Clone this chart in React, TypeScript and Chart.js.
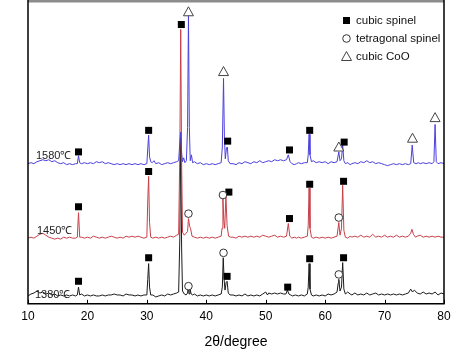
import React, { useEffect, useRef } from "react";
import { Chart, registerables } from "chart.js";

Chart.register(...registerables);

// 2θ (degree), relative intensity above each trace's own baseline
const trace1380: [number, number][] = [
  [10,1],[10.5,3],[11,4],[11.5,6],[12,4],[12.5,5],[13,3],[13.5,4],[14,2],[14.5,3],[15,1],[15.5,2],[16,1],[16.5,2],[17,1],[17.5,2],[18,1],[18.3,2],[18.5,10],[18.7,2],[19,3],[19.5,1],[20,2],[20.5,1],[21,2],[21.5,1],[22,1],[22.5,2],[23,1],[23.5,2],[24,2],[24.5,3],[25,2],[25.5,2],[26,1],[26.5,3],[27,2],[27.5,2],[28,1],[28.5,2],[29,1],[29.5,2],[30,2],[30.15,18],[30.3,34],[30.45,10],[30.65,2],[31,2],[31.5,0],[32,1],[32.5,2],[33,1],[33.5,3],[34,2],[34.5,3],[35,4],[35.35,5],[35.55,60],[35.7,163],[35.85,50],[36.0,6],[36.3,3],[36.6,2],[36.85,4],[36.95,10],[37.1,3],[37.25,9],[37.45,3],[37.7,2],[38,3],[38.5,1],[39,2],[39.5,1],[40,2],[40.5,1],[41,2],[41.5,1],[42,2],[42.5,3],[42.7,10],[42.85,40],[43.0,18],[43.15,7],[43.35,15],[43.5,16],[43.7,4],[44,2],[44.5,2],[45,1],[45.5,2],[46,1],[46.5,3],[47,1],[47.5,2],[48,1],[48.5,2],[49,1],[49.5,3],[50,5],[50.3,2],[50.5,4],[51,3],[51.5,4],[52,3],[52.5,4],[53,3],[53.4,3],[53.65,7],[53.9,3],[54.2,2],[54.5,1],[55,2],[55.5,1],[56,2],[56.5,1],[57,3],[57.15,10],[57.3,34],[57.45,8],[57.7,2],[58,1],[58.5,2],[59,1],[59.5,2],[60,1],[60.5,3],[61,2],[61.5,3],[62,5],[62.2,14],[62.3,18],[62.5,6],[62.75,10],[62.95,35],[63.15,8],[63.4,3],[63.8,5],[64.2,3],[64.5,2],[65,4],[65.5,2],[66,3],[66.5,2],[67,4],[67.5,2],[68,3],[68.5,4],[69,2],[69.5,3],[70,2],[70.5,3],[71,2],[71.5,3],[72,2],[72.5,3],[73,2],[73.5,3],[74,4],[74.4,8],[74.7,5],[75,7],[75.5,4],[76,3],[76.5,5],[77,3],[77.5,4],[78,3],[78.5,5],[79,2],[79.5,4],[80,3]
];

const trace1450: [number, number][] = [
  [10,2],[10.5,3],[11,2],[11.5,4],[12,6],[12.5,7],[13,5],[13.5,3],[14,2],[14.5,1],[15,2],[15.5,1],[16,3],[16.5,2],[17,3],[17.5,2],[18,2],[18.3,3],[18.5,28],[18.7,3],[19,3],[19.5,2],[20,3],[20.5,2],[21,4],[21.5,3],[22,2],[22.5,3],[23,2],[23.5,3],[24,4],[24.5,3],[25,2],[25.5,3],[26,2],[26.5,4],[27,3],[27.5,4],[28,3],[28.5,4],[29,3],[29.5,2],[30,3],[30.15,40],[30.3,65],[30.45,18],[30.65,3],[31,2],[31.5,3],[32,2],[32.5,3],[33,2],[33.5,3],[34,4],[34.5,3],[35,5],[35.35,6],[35.55,90],[35.7,215],[35.85,80],[36.0,8],[36.3,5],[36.6,7],[36.85,9],[37.0,22],[37.2,14],[37.35,12],[37.6,4],[38,3],[38.5,2],[39,3],[39.5,2],[40,3],[40.5,2],[41,3],[41.5,2],[42,3],[42.5,4],[42.65,12],[42.8,42],[42.95,20],[43.1,12],[43.3,45],[43.5,15],[43.75,4],[44.1,3],[44.5,3],[45,2],[45.5,4],[46,3],[46.5,4],[47,3],[47.5,4],[48,3],[48.5,4],[49,3],[49.5,5],[50,4],[50.5,3],[51,4],[51.5,5],[52,3],[52.5,4],[53,3],[53.5,4],[53.8,17],[54.05,4],[54.4,2],[54.8,3],[55.2,2],[55.5,3],[56,2],[56.5,3],[57,4],[57.15,15],[57.3,53],[57.45,12],[57.7,3],[58,2],[58.5,3],[59,2],[59.5,3],[60,2],[60.5,3],[61,2],[61.5,3],[62,4],[62.3,18],[62.5,5],[62.75,12],[62.95,56],[63.15,10],[63.4,3],[63.8,2],[64.2,4],[64.5,3],[65,4],[65.5,3],[66,5],[66.5,3],[67,4],[67.5,3],[68,6],[68.5,3],[69,4],[69.5,3],[70,5],[70.5,3],[71,4],[71.5,3],[72,5],[72.5,3],[73,4],[73.5,3],[74,4],[74.4,7],[74.6,11],[74.85,6],[75.2,3],[75.5,4],[76,5],[76.5,3],[77,4],[77.5,3],[78,4],[78.5,3],[79,4],[79.5,3],[80,3]
];

const trace1580: [number, number][] = [
  [10,3],[10.5,4],[11,3],[11.5,5],[12,6],[12.5,7],[13,6],[13.5,7],[14,5],[14.5,6],[15,4],[15.5,3],[16,4],[16.5,2],[17,3],[17.5,2],[18,3],[18.3,3],[18.5,11],[18.7,4],[19,3],[19.5,4],[20,3],[20.5,4],[21,3],[21.5,5],[22,4],[22.5,5],[23,3],[23.5,4],[24,3],[24.5,2],[25,3],[25.5,2],[26,3],[26.5,2],[27,3],[27.5,2],[28,3],[28.5,2],[29,3],[29.5,2],[30,3],[30.15,18],[30.3,32],[30.45,10],[30.65,5],[30.9,4],[31.2,6],[31.5,3],[32,4],[32.5,2],[33,3],[33.5,4],[34,3],[34.5,4],[35,5],[35.35,6],[35.55,25],[35.7,35],[35.85,14],[36.0,5],[36.2,9],[36.4,4],[36.65,6],[36.85,40],[37.0,155],[37.15,40],[37.3,6],[37.5,12],[37.7,4],[38,5],[38.5,3],[39,4],[39.5,2],[40,3],[40.5,2],[41,3],[41.5,2],[42,3],[42.5,4],[42.7,20],[42.9,90],[43.05,30],[43.2,8],[43.4,19],[43.55,20],[43.7,6],[44,3],[44.5,3],[45,2],[45.5,4],[46,3],[46.5,5],[47,4],[47.5,3],[48,5],[48.5,4],[49,6],[49.5,4],[50,5],[50.5,6],[51,5],[51.5,7],[52,6],[52.5,7],[53,6],[53.5,7],[53.8,12],[54.1,5],[54.4,3],[54.8,2],[55.2,3],[55.5,4],[56,3],[56.5,4],[57,4],[57.15,12],[57.3,33],[57.45,12],[57.7,5],[58,6],[58.5,4],[59,5],[59.5,4],[60,5],[60.5,3],[61,5],[61.5,4],[62,5],[62.3,15],[62.5,6],[62.75,8],[62.95,22],[63.15,6],[63.4,3],[63.8,4],[64.2,2],[64.5,3],[65,4],[65.5,3],[66,5],[66.5,4],[67,6],[67.5,4],[68,5],[68.5,3],[69,4],[69.5,3],[70,2],[70.5,1],[71,2],[71.5,3],[72,2],[72.5,3],[73,2],[73.5,3],[74,2],[74.4,3],[74.65,22],[74.9,4],[75.3,3],[75.7,4],[76,3],[76.5,4],[77,3],[77.5,4],[78,3],[78.3,5],[78.5,43],[78.7,5],[79,3],[79.5,4],[80,3]
];

// vertical offsets of the stacked traces
const offsets = [7, 65, 140];
const traceLabels = ["1380℃", "1450℃", "1580℃"];
const traceColors = ["#1c1c1c", "#c8404a", "#4b40dc"];

// phase markers: [2θ, plotted height]
const spinelMarks: [number, number][] = [
  [18.5,23],[30.3,47],[43.5,28],[53.7,17],[57.4,46],[63.1,47],
  [18.5,99],[30.3,135],[35.8,285],[43.8,114],[54.0,87],[57.4,122],[63.1,125],
  [18.5,155],[30.3,177],[43.6,166],[54.0,157],[57.4,177],[63.2,165]
];
const tetragonalMarks: [number, number][] = [
  [37.0,18],[42.9,52],[62.3,30],[37.0,92],[42.8,111],[62.3,88]
];
const cooMarks: [number, number][] = [
  [37.0,298],[42.9,237],[62.3,160],[74.7,169],[78.5,190]
];
const legendNames = ["cubic spinel", "tetragonal spinel", "cubic CoO"];
const xTicks = [10, 20, 30, 40, 50, 60, 70, 80];

const FONT = "Arial, 'Liberation Sans', Helvetica, sans-serif";

function drawMark(ctx: CanvasRenderingContext2D, kind: number, x: number, y: number) {
  ctx.save();
  ctx.lineWidth = 1;
  if (kind === 0) {
    ctx.fillStyle = "#000";
    ctx.fillRect(x - 3.5, y - 3.5, 7, 7);
  } else if (kind === 1) {
    ctx.fillStyle = "#fff";
    ctx.strokeStyle = "#333";
    ctx.beginPath();
    ctx.arc(x, y, 3.8, 0, Math.PI * 2);
    ctx.fill();
    ctx.stroke();
  } else {
    ctx.fillStyle = "#fff";
    ctx.strokeStyle = "#444";
    ctx.beginPath();
    ctx.moveTo(x, y - 5);
    ctx.lineTo(x + 5, y + 4);
    ctx.lineTo(x - 5, y + 4);
    ctx.closePath();
    ctx.fill();
    ctx.stroke();
  }
  ctx.restore();
}

const overlayPlugin = {
  id: "overlay",
  afterDatasetsDraw(chart: any) {
    const ctx: CanvasRenderingContext2D = chart.ctx;
    const xs = chart.scales.x;
    const ys = chart.scales.y;
    const groups = [spinelMarks, tetragonalMarks, cooMarks];
    groups.forEach((g, k) => {
      g.forEach(([dx, dy]) => drawMark(ctx, k, xs.getPixelForValue(dx), ys.getPixelForValue(dy)));
    });
  },
  afterDraw(chart: any) {
    const ctx: CanvasRenderingContext2D = chart.ctx;
    const { left, right, bottom } = chart.chartArea;
    const xs = chart.scales.x;
    ctx.save();
    // frame
    ctx.fillStyle = "#8c8c8c";
    ctx.fillRect(left, 0, right - left, 2.5);
    ctx.strokeStyle = "#000";
    ctx.lineWidth = 1.5;
    ctx.beginPath();
    ctx.moveTo(left, 0);
    ctx.lineTo(left, bottom);
    ctx.lineTo(right, bottom);
    ctx.lineTo(right, 0);
    ctx.stroke();
    // inward ticks
    ctx.lineWidth = 1;
    xTicks.forEach((t) => {
      const px = Math.round(xs.getPixelForValue(t)) + 0.5;
      ctx.beginPath();
      ctx.moveTo(px, bottom);
      ctx.lineTo(px, bottom - 4);
      ctx.stroke();
    });
    // trace labels
    ctx.fillStyle = "#222";
    ctx.font = `11px ${FONT}`;
    ctx.textBaseline = "middle";
    ctx.textAlign = "left";
    const labelPos: [number, number][] = [[35, 295], [37, 231], [36, 156]];
    traceLabels.forEach((t, i) => ctx.fillText(t, labelPos[i][0], labelPos[i][1]));
    // legend
    ctx.font = `11.5px ${FONT}`;
    const ly = [20.5, 38.5, 56.5];
    legendNames.forEach((n, i) => {
      drawMark(ctx, i, 346.5, ly[i]);
      ctx.fillStyle = "#111";
      ctx.fillText(n, 356, ly[i] + 0.5);
    });
    ctx.restore();
  },
};

export default function App() {
  const ref = useRef<HTMLCanvasElement | null>(null);
  useEffect(() => {
    if (!ref.current) return;
    const traces = [trace1380, trace1450, trace1580];
    const orders = [3, 2, 1];
    const chart = new Chart(ref.current, {
      type: "line",
      data: {
        datasets: traces.map((tr, i) => ({
          label: traceLabels[i],
          data: tr.map(([x, y]) => ({ x, y: y + offsets[i] })),
          borderColor: traceColors[i],
          borderWidth: 1,
          pointRadius: 0,
          tension: 0,
          fill: false,
          order: orders[i],
        })),
      },
      options: {
        animation: false,
        responsive: false,
        devicePixelRatio: 1,
        layout: { padding: { left: 28, right: 30, top: 1, bottom: 0 } },
        plugins: { legend: { display: false }, tooltip: { enabled: false } },
        scales: {
          x: {
            type: "linear",
            min: 10,
            max: 80,
            grid: { display: false, drawTicks: false },
            border: { display: false },
            ticks: {
              stepSize: 10,
              padding: 6,
              color: "#000",
              font: { family: FONT, size: 12 },
              maxRotation: 0,
            },
            title: {
              display: true,
              text: "2θ/degree",
              color: "#000",
              font: { family: FONT, size: 14 },
              padding: { top: 4, bottom: 9 },
            },
          },
          y: {
            type: "linear",
            min: 0,
            max: 309,
            display: false,
          },
        },
      },
      plugins: [overlayPlugin],
    } as any);
    return () => chart.destroy();
  }, []);
  return (
    <div style={{ position: "absolute", left: 0, top: 0, width: 474, height: 360, background: "#fff" }}>
      <canvas ref={ref} width={474} height={360} />
    </div>
  );
}
